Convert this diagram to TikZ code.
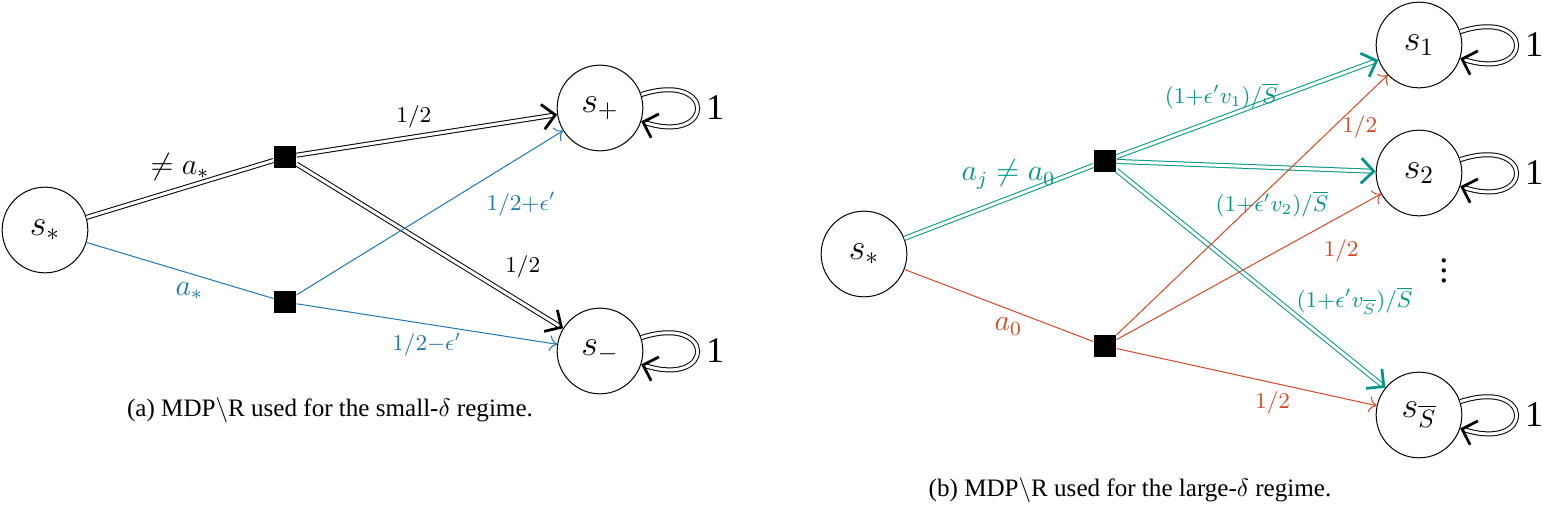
\documentclass[tikz,border=0pt]{standalone}
\usepackage{fontspec}
\setmainfont{Liberation Serif}
\usetikzlibrary{arrows.meta}
\definecolor{myblue}{RGB}{31,119,180}
\definecolor{myteal}{RGB}{0,150,136}
\definecolor{myred}{RGB}{214,72,40}
\begin{document}
\begin{tikzpicture}[x=0.014cm, y=-0.014cm,
  state/.style={circle, draw, minimum size=1.2cm, inner sep=0pt, font=\Large},
  act/.style={fill=black, minimum size=0.31cm, inner sep=0pt},
  dbl/.style={double, double distance=1.2pt, -{Straight Barb[length=5pt, width=10pt, line width=1.1pt]}},
  thin/.style={-{To[length=3pt]}},
  lbl/.style={font=\small},
  selfloop/.style={dbl, loop, min distance=1.1cm, in=-18, out=18}]
  \useasboundingbox (0,0) rectangle (1543,512);

  % (a) small-delta
  \node[state] (sa) at (45,230) {$s_*$};
  \node[act] (ta) at (285,157) {};
  \node[act] (ba) at (285,302) {};
  \node[state] (sp) at (600,108) {$s_+$};
  \node[state] (sm) at (600,351) {$s_-$};
  \draw[dbl, -] (sa) -- node[above, pos=0.5, font=\large] {$\neq a_*$} (ta);
  \draw[dbl] (ta) -- node[above, lbl, pos=0.45] {$1/2$} (sp);
  \draw[dbl] (ta) -- node[above right, lbl, pos=0.75] {$1/2$} (sm);
  \draw[myblue] (sa) -- node[below, pos=0.55, font=\large] {$a_*$} (ba);
  \draw[myblue, thin] (ba) -- node[below right, lbl, pos=0.68] {$1/2{+}\epsilon'$} (sp);
  \draw[myblue, thin] (ba) -- node[below, lbl, pos=0.5] {$1/2{-}\epsilon'$} (sm);
  \draw (sp) edge[selfloop] node[right, font=\Large] {1} (sp);
  \draw (sm) edge[selfloop] node[right, font=\Large] {1} (sm);
  \node (capa) at (330,410) {(a) MDP$\backslash$R used for the small-$\delta$ regime.};

  % (b) large-delta
  \node[state] (sb) at (864,254) {$s_*$};
  \node[act] (tb) at (1105,161) {};
  \node[act] (bb) at (1105,346) {};
  \node[state] (s1) at (1419,45) {$s_1$};
  \node[state] (s2) at (1419,173) {$s_2$};
  \node[state] (sn) at (1419,415) {$s_{\overline{S}}$};
  \node[font=\Large] (dots) at (1444,263) {$\vdots$};
  \draw[myteal, dbl, -] (sb) -- node[above, pos=0.55, font=\large] {$a_j \neq a_0$} (tb);
  \draw[myteal, dbl] (tb) -- node[above, lbl, pos=0.4] {$(1{+}\epsilon' v_1)/\overline{S}$} (s1);
  \draw[myteal, dbl] (tb) -- node[below, lbl, pos=0.6, yshift=-6pt] {$(1{+}\epsilon' v_2)/\overline{S}$} (s2);
  \draw[myteal, dbl] (tb) -- node[right, lbl, pos=0.6, xshift=4pt] {$(1{+}\epsilon' v_{\overline{S}})/\overline{S}$} (sn);
  \draw[myred] (sb) -- node[below, pos=0.55, font=\large] {$a_0$} (bb);
  \draw[myred, thin] (bb) -- node[right, lbl, pos=0.8] {$1/2$} (s1);
  \draw[myred, thin] (bb) -- node[below right, lbl, pos=0.75] {$1/2$} (s2);
  \draw[myred, thin] (bb) -- node[below, lbl, pos=0.6] {$1/2$} (sn);
  \draw (s1) edge[selfloop] node[right, font=\Large] {1} (s1);
  \draw (s2) edge[selfloop] node[right, font=\Large] {1} (s2);
  \draw (sn) edge[selfloop] node[right, font=\Large] {1} (sn);
  \node (capb) at (1130,490) {(b) MDP$\backslash$R used for the large-$\delta$ regime.};
\end{tikzpicture}
\end{document}
